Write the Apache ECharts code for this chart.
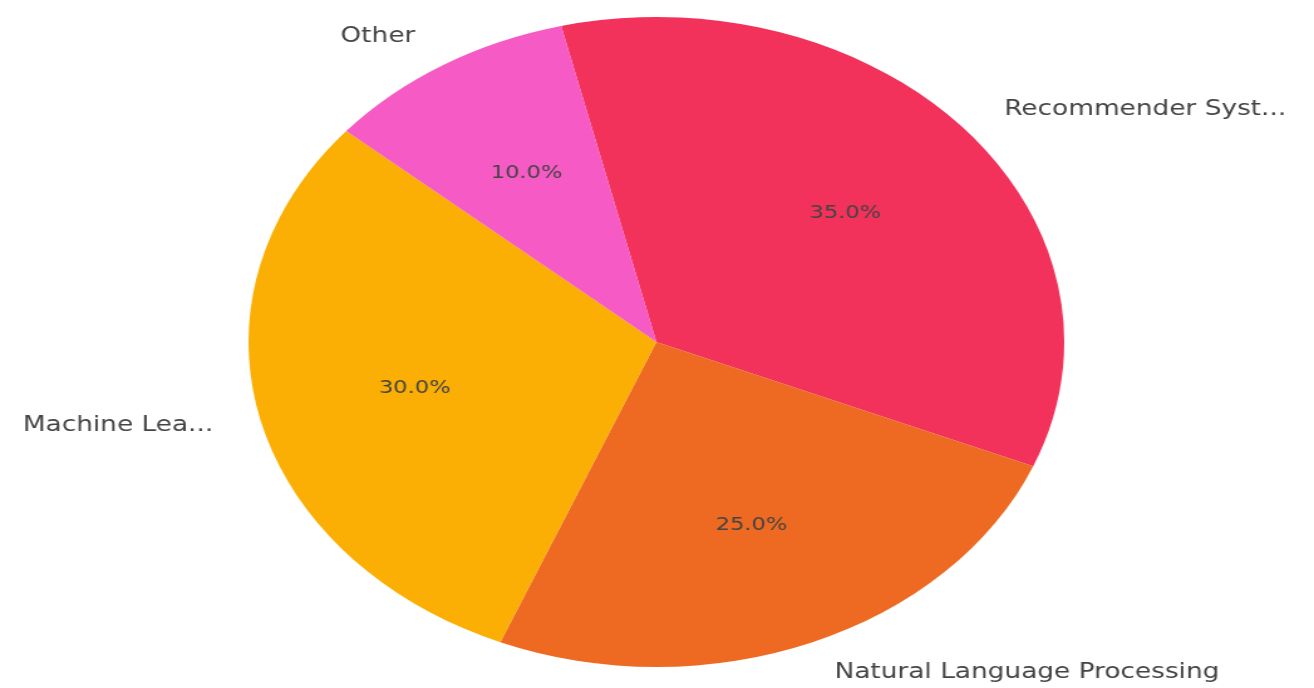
<!DOCTYPE html>
<html><head><meta charset="utf-8">
<script src="https://cdn.jsdelivr.net/npm/echarts@6/dist/echarts.min.js"></script>
<style>html,body{margin:0;padding:0;overflow:hidden;background:#fff}
#c{width:1047px;height:688px;transform:scaleX(1.255);transform-origin:0 0;}</style>
</head><body><div id="c"></div>
<script>
const categories = ['Recommender Systems','Natural Language Processing','Machine Learning','Other'];
const values = [35,25,30,10];
const colors = ['#F2325A','#EE6A22','#FBAE04','#F65AC4'];
const chart = echarts.init(document.getElementById('c'));
const R = 325;
const center = [523, 342];
const data = categories.map((n,i)=>({name:n,value:values[i],itemStyle:{color:colors[i]}}));
chart.setOption({
  animation:false,
  series:[
    {type:'pie',center,radius:[0,R],startAngle:103.5,clockwise:true,data,
     label:{show:true,position:'outside',formatter:'{b}',fontSize:21,color:'#444',fontFamily:'DejaVu Sans'},
     labelLine:{show:false,length:Math.round(R*0.1),length2:0},
     emphasis:{disabled:true}},
    {type:'pie',center,radius:[R*0.2,R],startAngle:103.5,clockwise:true,silent:true,
     data:categories.map((n,i)=>({name:n,value:values[i]})),
     itemStyle:{color:'rgba(0,0,0,0)'},
     label:{show:true,position:'inside',formatter:p=>p.percent.toFixed(1)+'%',fontSize:18,color:'#444',fontFamily:'DejaVu Sans'},
     labelLine:{show:false}}
  ]
});
</script></body></html>
